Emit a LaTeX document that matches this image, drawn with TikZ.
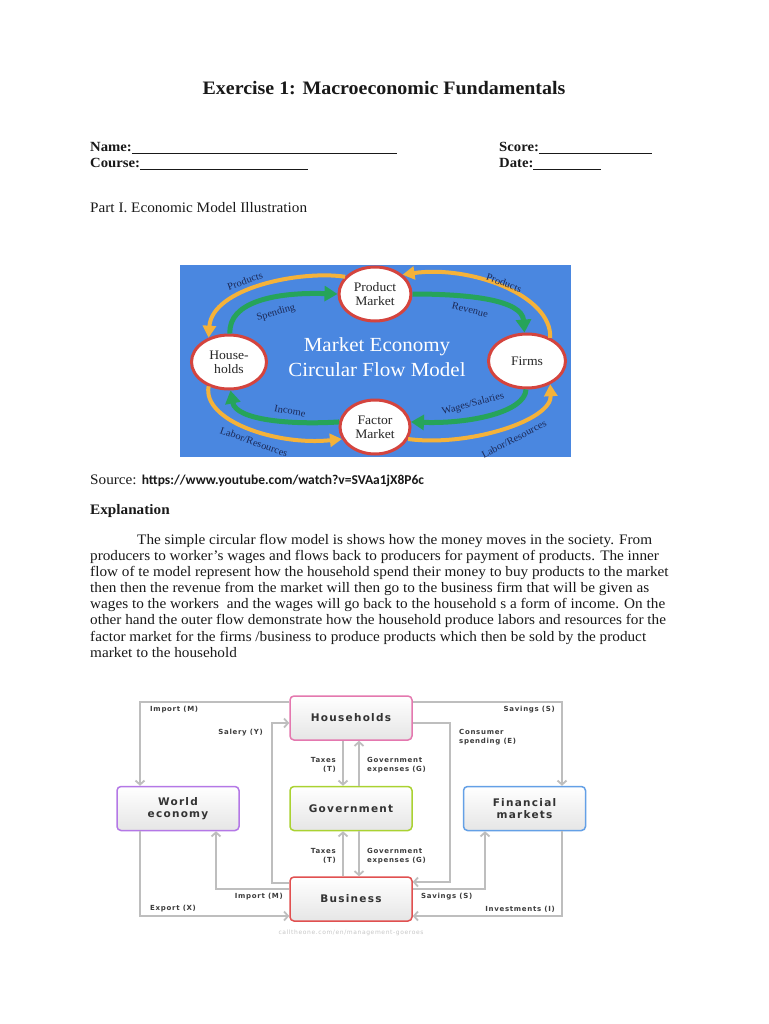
\documentclass[tikz,border=0pt]{standalone}
\usepackage{fontspec}
\setmainfont[FakeStretch=1.05]{Liberation Serif}
\newfontfamily\urlfont{Carlito}
\newfontfamily\gsans[LetterSpace=10]{DejaVu Sans}
\newfontfamily\gsansbox[LetterSpace=12]{DejaVu Sans}
\usetikzlibrary{arrows.meta,shapes.geometric,calc}
\definecolor{cfblue}{RGB}{74,135,224}
\definecolor{cforange}{RGB}{244,178,58}
\definecolor{cfgreen}{RGB}{38,164,90}
\definecolor{cfred}{RGB}{212,68,62}
\definecolor{cfnavy}{RGB}{28,42,88}
\definecolor{garrowc}{RGB}{190,190,190}
\definecolor{glabel}{RGB}{60,60,60}
\definecolor{bpink}{RGB}{228,120,175}
\definecolor{bgreen}{RGB}{170,210,50}
\definecolor{bred}{RGB}{225,80,80}
\definecolor{bpurple}{RGB}{180,120,230}
\definecolor{bblue}{RGB}{100,160,230}
\definecolor{textc}{RGB}{25,25,25}
\begin{document}
\begin{tikzpicture}[x=1pt,y=-1pt,
  txt/.style={anchor=base west, inner sep=0, text=textc, font=\fontsize{14.5}{16}\selectfont},
  cfell/.style={ellipse, draw=cfred, line width=3pt, fill=white, inner sep=0, align=center, text=black!85, font=\fontsize{13}{14}\selectfont},
  cflab/.style={inner sep=0, text=cfnavy, font=\fontsize{10}{11}\selectfont},
  outerflow/.style={draw=cforange, line width=4pt, -{Triangle[length=12pt,width=13pt]}},
  innerflow/.style={draw=cfgreen, line width=5pt, -{Triangle[length=13pt,width=15pt]}},
  gbox/.style={rounded corners=4pt, line width=1.5pt, top color=white, bottom color=black!10, minimum width=122pt, minimum height=44pt, inner sep=0, align=center, text=black!80, font=\gsansbox\bfseries\fontsize{10.5}{12.5}\selectfont},
  garr/.style={draw=garrowc, line width=1.8pt, -{Straight Barb[length=4pt,width=9pt]}},
  glab/.style={inner sep=0, text=glabel, align=left, font=\gsans\bfseries\fontsize{7}{8.5}\selectfont}
]
\useasboundingbox (0,0) rectangle (768,1024);
\fill[white] (0,0) rectangle (768,1024);

% header
\node[anchor=base, inner sep=0, text=textc, font=\fontsize{19}{22}\selectfont\bfseries] (title) at (384,95) {Exercise 1: Macroeconomic Fundamentals};
\node[txt, font=\fontsize{14}{16}\selectfont] (name) at (90,152) {\bfseries Name:\rule[-1.5pt]{265pt}{0.6pt}};
\node[txt, font=\fontsize{14}{16}\selectfont] (course) at (90,168) {\bfseries Course:\rule[-1.5pt]{168pt}{0.6pt}};
\node[txt, font=\fontsize{14}{16}\selectfont] (score) at (499,152) {\bfseries Score:\rule[-1.5pt]{113pt}{0.6pt}};
\node[txt, font=\fontsize{14}{16}\selectfont] (date) at (499,168) {\bfseries Date:\rule[-1.5pt]{68pt}{0.6pt}};
\node[txt] (part) at (90,213) {Part I. Economic Model Illustration};

% circular flow picture
\fill[cfblue] (180,265) rectangle (571,457);
\node[font=\fontsize{20}{23}\selectfont, text=white, inner sep=0] (cft1) at (377,347) {Market Economy};
\node[font=\fontsize{20}{23}\selectfont, text=white, inner sep=0] (cft2) at (377,370) {Circular Flow Model};
\node[cfell, minimum width=72pt, minimum height=54pt] (pm) at (375,294) {Product\\Market};
\node[cfell, minimum width=75pt, minimum height=54pt] (hh) at (229,362) {House-\\holds};
\node[cfell, minimum width=77pt, minimum height=54pt] (fm) at (527,361) {Firms};
\node[cfell, minimum width=70pt, minimum height=54pt] (fc) at (375,427) {Factor\\Market};

\draw[outerflow] (pm.150) .. controls (300,270) and (212,288) .. (hh.130);
\draw[outerflow] (fm.45) .. controls (552,295) and (470,265) .. (pm.35);
\draw[outerflow] (hh.230) .. controls (202,420) and (275,446) .. (fc.200);
\draw[outerflow] (fc.-20) .. controls (470,447) and (552,420) .. (fm.-45);
\draw[innerflow] (hh.88) .. controls (228,302) and (275,292) .. (pm.180);
\draw[innerflow] (pm.0) .. controls (470,294) and (522,300) .. (fm.95);
\draw[innerflow] (fm.-92) .. controls (525,412) and (470,424) .. (fc.8);
\draw[innerflow] (fc.172) .. controls (290,425) and (236,420) .. (hh.-87);

\node[cflab, rotate=20] (lp1) at (245,281) {Products};
\node[cflab, rotate=-20] (lp2) at (504,283) {Products};
\node[cflab, rotate=16] (lsp) at (276,313) {Spending};
\node[cflab, rotate=-14] (lrv) at (470,310) {Revenue};
\node[cflab, rotate=-10] (lin) at (290,411) {Income};
\node[cflab, rotate=15] (lws) at (473,404) {Wages/Salaries};
\node[cflab, rotate=-20] (llr1) at (254,442) {Labor/Resources};
\node[cflab, rotate=27] (llr2) at (514,439) {Labor/Resources};

% source and explanation
\node[txt] (src) at (90,484) {Source: {\urlfont\bfseries\fontsize{13.5}{15}\selectfont https://www.youtube.com/watch?v=SVAa1jX8P6c}};
\node[txt] (expl) at (90,514) {\bfseries Explanation};
\node[txt] (p1) at (137,544) {The simple circular flow model is shows how the money moves in the society. From};
\node[txt] (p2) at (90,560) {producers to worker’s wages and flows back to producers for payment of products. The inner};
\node[txt] (p3) at (90,576) {flow of te model represent how the household spend their money to buy products to the market};
\node[txt] (p4) at (90,592) {then then the revenue from the market will then go to the business firm that will be given as};
\node[txt] (p5) at (90,608) {wages to the workers\ \ and the wages will go back to the household s a form of income. On the};
\node[txt] (p6) at (90,624) {other hand the outer flow demonstrate how the household produce labors and resources for the};
\node[txt] (p7) at (90,641) {factor market for the firms /business to produce products which then be sold by the product};
\node[txt] (p8) at (90,657) {market to the household};

% second diagram
\node[gbox, draw=bpink] (ho) at (351,718) {Households};
\node[gbox, draw=bgreen] (gv) at (351,808.5) {Government};
\node[gbox, draw=bred] (bu) at (351,899) {Business};
\node[gbox, draw=bpurple] (we) at (178,808.5) {World\\economy};
\node[gbox, draw=bblue] (fi) at (524.5,808.5) {Financial\\markets};

\draw[garr] (ho.west |- 0,702) -| (we.north -| 140,0);
\draw[garr] (bu.west |- 0,883) -| (272,723) -- (ho.west |- 0,723);
\draw[garr] (bu.west |- 0,889) -| (we.south -| 216,0);
\draw[garr] (we.south -| 140,0) |- (bu.west |- 0,916);
\draw[garr] (ho.south -| 343,0) -- (gv.north -| 343,0);
\draw[garr] (gv.north -| 359,0) -- (ho.south -| 359,0);
\draw[garr] (bu.north -| 343,0) -- (gv.south -| 343,0);
\draw[garr] (gv.south -| 359,0) -- (bu.north -| 359,0);
\draw[garr] (ho.east |- 0,723) -| (450,882) -- (bu.east |- 0,882);
\draw[garr] (ho.east |- 0,702) -| (fi.north -| 562,0);
\draw[garr] (bu.east |- 0,889) -| (fi.south -| 485,0);
\draw[garr] (fi.south -| 562,0) |- (bu.east |- 0,916);

\node[glab, anchor=west] (gl1) at (150,710) {Import (M)};
\node[glab, anchor=east] (gl2) at (263,733) {Salery (Y)};
\node[glab, anchor=east, align=right] (gl3) at (336,765) {Taxes\\(T)};
\node[glab, anchor=west] (gl4) at (367,765) {Government\\expenses (G)};
\node[glab, anchor=east, align=right] (gl5) at (336,856) {Taxes\\(T)};
\node[glab, anchor=west] (gl6) at (367,856) {Government\\expenses (G)};
\node[glab, anchor=west] (gl7) at (459,737) {Consumer\\spending (E)};
\node[glab, anchor=east] (gl8) at (555,710) {Savings (S)};
\node[glab, anchor=east] (gl9) at (283,897) {Import (M)};
\node[glab, anchor=west] (gl10) at (150,909) {Export (X)};
\node[glab, anchor=west] (gl11) at (421,897) {Savings (S)};
\node[glab, anchor=east] (gl12) at (555,909) {Investments (I)};
\node[inner sep=0, text=black!22, font=\gsans\fontsize{6}{7}\selectfont] (foot) at (351,933) {calltheone.com/en/management-goeroes};
\end{tikzpicture}
\end{document}
